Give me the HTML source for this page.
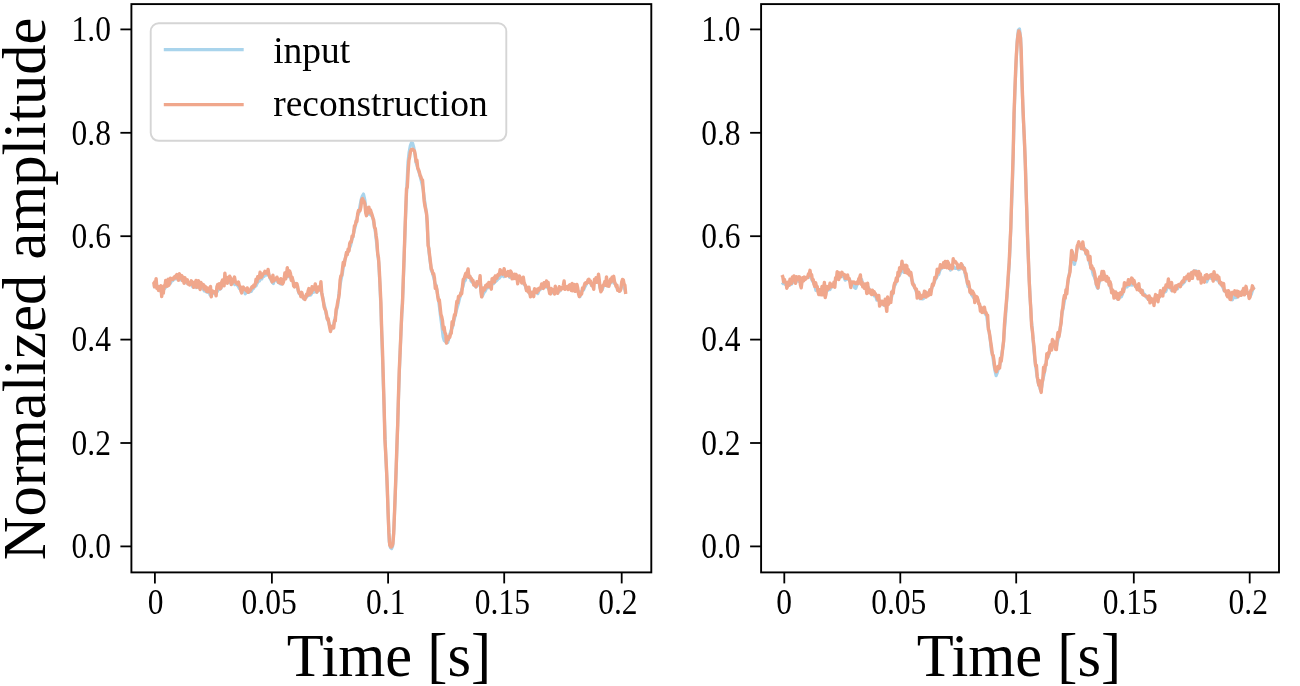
<!DOCTYPE html>
<html><head><meta charset="utf-8"><title>Normalized amplitude vs time</title><style>
html,body{margin:0;padding:0;background:#fff;}
body{width:1300px;height:686px;overflow:hidden;}
svg{display:block;}
text{font-family:"Liberation Serif","Times New Roman",serif;fill:#000;}
.tk{font-size:35px;}
.lab{font-size:60.5px;}
.leg{font-size:37.5px;}
</style></head>
<body>
<svg width="1300" height="686" viewBox="0 0 1300 686">
<rect width="1300" height="686" fill="#fff"/>
<defs><clipPath id="clip0"><rect x="131.4" y="4.1" width="519.9" height="568.3"/></clipPath><clipPath id="clip1"><rect x="761.1" y="4.1" width="517.9" height="568.3"/></clipPath></defs>
<g clip-path="url(#clip0)">
<path d="M152.9,286.7 L154.1,286.6 L155.2,285.6 L156.4,284.5 L157.6,286.5 L158.7,287.5 L159.9,289.8 L161.1,291.9 L162.3,290.8 L163.4,289.4 L164.6,288.6 L165.8,287.0 L166.9,285.4 L168.1,283.3 L169.3,283.4 L170.4,283.4 L171.6,280.6 L172.8,280.7 L174.0,278.8 L175.1,279.0 L176.3,278.0 L177.5,279.2 L178.6,278.0 L179.8,279.7 L181.0,279.8 L182.1,279.7 L183.3,277.6 L184.5,280.4 L185.7,281.9 L186.8,283.0 L188.0,282.4 L189.2,284.2 L190.3,284.0 L191.5,284.6 L192.7,286.8 L193.8,285.3 L195.0,286.4 L196.2,287.6 L197.4,286.5 L198.5,287.2 L199.7,287.8 L200.9,288.3 L202.0,287.5 L203.2,289.2 L204.4,291.0 L205.5,288.9 L206.7,292.1 L207.9,292.1 L209.1,292.1 L210.2,295.2 L211.4,294.0 L212.6,292.0 L213.7,293.3 L214.9,293.8 L216.1,291.9 L217.2,291.6 L218.4,289.7 L219.6,289.3 L220.8,288.8 L221.9,285.3 L223.1,284.9 L224.3,282.9 L225.4,282.1 L226.6,280.7 L227.8,281.3 L228.9,281.7 L230.1,282.8 L231.3,283.3 L232.5,281.4 L233.6,282.5 L234.8,284.6 L236.0,282.5 L237.1,285.0 L238.3,286.4 L239.5,288.7 L240.6,289.1 L241.8,289.1 L243.0,290.0 L244.2,291.1 L245.3,293.8 L246.5,292.1 L247.7,292.0 L248.8,292.4 L250.0,291.7 L251.2,291.4 L252.3,289.3 L253.5,288.6 L254.7,286.3 L255.9,286.0 L257.0,283.6 L258.2,281.5 L259.4,281.0 L260.5,278.8 L261.7,279.0 L262.9,276.7 L264.0,276.5 L265.2,274.1 L266.4,275.1 L267.6,272.5 L268.7,273.7 L269.9,278.1 L271.1,280.3 L272.2,282.0 L273.4,283.5 L274.6,279.8 L275.7,279.4 L276.9,280.7 L278.1,282.2 L279.3,282.8 L280.4,283.9 L281.6,284.1 L282.8,282.3 L283.9,279.1 L285.1,278.4 L286.3,276.9 L287.4,275.2 L288.6,276.6 L289.8,275.4 L291.0,278.6 L292.1,279.9 L293.3,281.9 L294.5,283.3 L295.6,286.0 L296.8,286.5 L298.0,289.7 L299.1,293.5 L300.3,292.5 L301.5,296.6 L302.7,295.2 L303.8,298.9 L305.0,297.0 L306.2,297.7 L307.3,296.1 L308.5,293.5 L309.7,295.3 L310.8,294.9 L312.0,292.9 L313.2,292.3 L314.4,291.9 L315.5,290.6 L316.7,292.2 L317.9,289.9 L319.0,289.9 L320.2,288.5 L321.4,292.1 L322.5,296.1 L323.7,303.3 L324.9,307.2 L326.1,313.8 L327.2,318.3 L328.4,321.7 L329.6,325.8 L330.7,327.6 L331.9,328.8 L333.1,326.4 L334.2,322.5 L335.4,316.5 L336.6,310.0 L337.8,305.2 L338.9,294.1 L340.1,284.9 L341.3,278.4 L342.4,273.7 L343.6,265.0 L344.8,260.5 L345.9,255.9 L347.1,252.0 L348.3,251.7 L349.5,248.1 L350.6,245.4 L351.8,240.1 L353.0,236.5 L354.1,230.7 L355.3,226.5 L356.5,220.8 L357.6,215.9 L358.8,213.0 L360.0,205.7 L361.2,199.4 L362.3,196.0 L363.5,194.0 L364.7,199.3 L365.8,207.2 L367.0,215.0 L368.2,213.6 L369.3,212.2 L370.5,214.8 L371.7,215.8 L372.9,217.9 L374.0,224.1 L375.2,230.5 L376.4,241.3 L377.5,251.8 L378.7,262.2 L379.9,284.8 L381.0,310.4 L382.2,348.5 L383.4,386.6 L384.6,423.2 L385.7,454.4 L386.9,479.5 L388.1,512.4 L389.2,541.4 L390.4,547.5 L391.6,548.6 L392.7,545.9 L393.9,528.4 L395.1,498.6 L396.3,466.6 L397.4,432.5 L398.6,393.9 L399.8,359.8 L400.9,333.6 L402.1,309.3 L403.3,282.8 L404.4,249.4 L405.6,215.1 L406.8,187.7 L408.0,162.2 L409.1,152.2 L410.3,145.7 L411.5,142.5 L412.6,143.2 L413.8,147.4 L415.0,154.8 L416.1,162.7 L417.3,166.4 L418.5,170.8 L419.7,174.6 L420.8,178.8 L422.0,183.9 L423.2,189.8 L424.3,198.6 L425.5,206.4 L426.7,215.8 L427.8,236.5 L429.0,252.3 L430.2,261.9 L431.4,270.5 L432.5,272.9 L433.7,277.7 L434.9,282.8 L436.0,285.2 L437.2,292.3 L438.4,299.0 L439.5,307.6 L440.7,317.6 L441.9,326.5 L443.1,336.9 L444.2,340.5 L445.4,341.5 L446.6,342.8 L447.7,342.7 L448.9,338.3 L450.1,333.6 L451.2,330.1 L452.4,327.6 L453.6,322.0 L454.8,317.2 L455.9,312.4 L457.1,307.8 L458.3,303.8 L459.4,299.2 L460.6,294.8 L461.8,289.4 L462.9,286.9 L464.1,281.6 L465.3,280.4 L466.5,275.7 L467.6,275.2 L468.8,276.7 L470.0,276.7 L471.1,281.1 L472.3,282.2 L473.5,282.2 L474.6,285.4 L475.8,287.0 L477.0,284.5 L478.2,285.1 L479.3,282.5 L480.5,283.3 L481.7,296.7 L482.8,295.2 L484.0,292.5 L485.2,291.1 L486.3,288.8 L487.5,287.3 L488.7,287.6 L489.9,284.4 L491.0,283.4 L492.2,281.1 L493.4,283.7 L494.5,282.2 L495.7,281.4 L496.9,280.3 L498.0,278.9 L499.2,278.1 L500.4,276.7 L501.6,275.8 L502.7,275.2 L503.9,276.6 L505.1,275.8 L506.2,275.3 L507.4,274.9 L508.6,275.0 L509.7,277.4 L510.9,276.4 L512.1,276.2 L513.3,276.3 L514.4,275.9 L515.6,277.4 L516.8,278.8 L517.9,277.9 L519.1,278.5 L520.3,278.9 L521.4,280.9 L522.6,280.9 L523.8,284.0 L525.0,285.2 L526.1,288.7 L527.3,288.9 L528.5,292.0 L529.6,293.5 L530.8,292.2 L532.0,292.5 L533.1,293.6 L534.3,293.0 L535.5,291.5 L536.7,292.5 L537.8,293.6 L539.0,290.5 L540.2,289.7 L541.3,287.9 L542.5,288.3 L543.7,286.0 L544.8,285.5 L546.0,287.1 L547.2,284.8 L548.4,288.2 L549.5,290.1 L550.7,290.2 L551.9,291.3 L553.0,292.9 L554.2,290.9 L555.4,290.7 L556.5,290.1 L557.7,290.9 L558.9,291.7 L560.1,290.6 L561.2,288.1 L562.4,287.8 L563.6,288.0 L564.7,288.6 L565.9,288.0 L567.1,288.2 L568.2,288.5 L569.4,288.1 L570.6,288.5 L571.8,288.9 L572.9,288.8 L574.1,289.6 L575.3,291.2 L576.4,290.1 L577.6,290.3 L578.8,291.6 L579.9,296.7 L581.1,292.5 L582.3,290.4 L583.5,290.1 L584.6,287.5 L585.8,285.3 L587.0,282.4 L588.1,282.4 L589.3,280.8 L590.5,282.6 L591.6,285.7 L592.8,285.1 L594.0,283.1 L595.2,280.7 L596.3,279.7 L597.5,277.5 L598.7,280.8 L599.8,286.8 L601.0,290.3 L602.2,289.6 L603.3,286.7 L604.5,283.8 L605.7,283.4 L606.9,285.6 L608.0,286.0 L609.2,284.4 L610.4,283.1 L611.5,280.7 L612.7,279.9 L613.9,283.3 L615.0,283.5 L616.2,285.5 L617.4,289.2 L618.6,289.4 L619.7,291.2 L620.9,287.8 L622.1,283.6 L623.2,281.2 L624.4,287.9 L625.6,292.3" fill="none" stroke="#a9d4ec" stroke-width="3.2" stroke-linejoin="round"/>
<path d="M152.9,281.8 L153.7,282.3 L154.5,286.9 L155.3,285.6 L156.1,278.7 L156.9,288.3 L157.7,287.3 L158.5,290.4 L159.3,286.7 L160.1,287.6 L160.9,285.8 L161.7,296.6 L162.5,289.5 L163.3,293.2 L164.1,285.6 L164.9,286.6 L165.7,280.5 L166.5,283.3 L167.3,286.2 L168.1,279.2 L168.9,285.2 L169.7,282.6 L170.5,278.2 L171.3,279.2 L172.1,278.8 L172.9,279.4 L173.7,277.8 L174.5,276.7 L175.3,277.9 L176.1,275.6 L176.9,274.5 L177.7,277.7 L178.5,280.2 L179.3,273.6 L180.1,278.0 L180.9,276.3 L181.7,275.6 L182.5,280.8 L183.3,277.1 L184.1,283.3 L184.9,277.6 L185.7,281.5 L186.5,280.5 L187.3,279.7 L188.1,284.1 L188.9,282.6 L189.7,285.0 L190.5,283.4 L191.3,280.8 L192.1,283.8 L192.9,284.5 L193.7,287.3 L194.5,282.3 L195.3,284.9 L196.1,280.4 L196.9,287.2 L197.7,282.6 L198.5,280.8 L199.3,285.9 L200.1,289.5 L200.9,282.4 L201.7,284.0 L202.5,285.3 L203.3,284.5 L204.1,289.1 L204.9,286.2 L205.7,287.0 L206.5,291.2 L207.3,288.0 L208.1,291.8 L208.9,288.4 L209.7,288.3 L210.5,286.6 L211.3,296.9 L212.1,290.8 L212.9,292.4 L213.7,291.6 L214.5,292.1 L215.3,291.5 L216.1,295.9 L216.9,286.9 L217.7,284.6 L218.5,285.4 L219.3,283.7 L220.1,288.7 L220.9,288.0 L221.7,282.1 L222.5,280.0 L223.3,281.9 L224.1,285.9 L224.9,273.2 L225.7,281.9 L226.5,277.4 L227.3,283.3 L228.1,277.4 L228.9,279.6 L229.7,276.2 L230.5,277.7 L231.3,284.6 L232.1,283.4 L232.9,280.4 L233.7,279.4 L234.5,277.0 L235.3,281.6 L236.1,283.0 L236.9,283.5 L237.7,284.2 L238.5,282.0 L239.3,285.6 L240.1,286.4 L240.9,290.8 L241.7,293.0 L242.5,288.1 L243.3,287.0 L244.1,289.6 L244.9,288.8 L245.7,289.0 L246.5,290.9 L247.3,288.0 L248.1,292.4 L248.9,290.3 L249.7,291.1 L250.5,289.7 L251.3,288.0 L252.1,286.7 L252.9,287.4 L253.7,285.3 L254.5,286.2 L255.3,284.2 L256.1,279.1 L256.9,281.9 L257.7,276.7 L258.5,278.0 L259.3,278.0 L260.1,272.2 L260.9,277.5 L261.7,276.9 L262.5,275.2 L263.3,273.6 L264.1,273.4 L264.9,271.3 L265.7,272.9 L266.5,271.7 L267.3,273.1 L268.1,269.4 L268.9,275.3 L269.7,276.9 L270.5,278.0 L271.3,279.0 L272.1,281.9 L272.9,275.3 L273.7,280.9 L274.5,279.8 L275.3,279.6 L276.1,279.4 L276.9,277.2 L277.7,279.1 L278.5,282.4 L279.3,282.7 L280.1,282.9 L280.9,278.6 L281.7,283.3 L282.5,283.9 L283.3,282.4 L284.1,279.1 L284.9,272.9 L285.7,278.8 L286.5,274.7 L287.3,267.7 L288.1,275.9 L288.9,270.6 L289.7,271.2 L290.5,273.6 L291.3,280.3 L292.1,277.1 L292.9,280.4 L293.7,285.9 L294.5,286.9 L295.3,283.7 L296.1,284.9 L296.9,283.6 L297.7,286.8 L298.5,291.5 L299.3,293.0 L300.1,293.2 L300.9,296.5 L301.7,292.3 L302.5,295.1 L303.3,298.1 L304.1,298.5 L304.9,299.4 L305.7,296.9 L306.5,294.3 L307.3,295.5 L308.1,291.0 L308.9,288.6 L309.7,294.2 L310.5,291.9 L311.3,292.6 L312.1,286.7 L312.9,290.1 L313.7,289.2 L314.5,288.1 L315.3,283.9 L316.1,288.9 L316.9,292.0 L317.7,290.1 L318.5,287.0 L319.3,288.2 L320.1,290.0 L320.9,281.6 L321.7,292.2 L322.5,297.2 L323.3,300.8 L324.1,306.9 L324.9,309.1 L325.7,310.5 L326.5,314.2 L327.3,319.3 L328.1,318.6 L328.9,322.8 L329.7,327.7 L330.5,331.5 L331.3,326.4 L332.1,326.3 L332.9,326.2 L333.7,327.9 L334.5,320.4 L335.3,321.0 L336.1,309.6 L336.9,306.9 L337.7,301.9 L338.5,298.7 L339.3,293.4 L340.1,280.2 L340.9,275.8 L341.7,275.4 L342.5,268.6 L343.3,262.2 L344.1,265.5 L344.9,260.0 L345.7,257.0 L346.5,252.4 L347.3,254.7 L348.1,249.2 L348.9,251.0 L349.7,243.5 L350.5,241.7 L351.3,241.9 L352.1,236.1 L352.9,236.7 L353.7,232.3 L354.5,225.7 L355.3,225.3 L356.1,221.0 L356.9,221.4 L357.7,213.6 L358.5,210.4 L359.3,211.3 L360.1,210.5 L360.9,206.9 L361.7,199.8 L362.5,198.6 L363.3,200.7 L364.1,201.4 L364.9,204.3 L365.7,212.7 L366.5,215.7 L367.3,211.1 L368.1,207.7 L368.9,207.2 L369.7,212.9 L370.5,209.9 L371.3,212.7 L372.1,214.8 L372.9,218.0 L373.7,220.2 L374.5,227.5 L375.3,228.5 L376.1,235.5 L376.9,240.8 L377.7,253.9 L378.5,257.8 L379.3,269.8 L380.1,285.9 L380.9,302.6 L381.7,331.2 L382.5,350.8 L383.3,378.3 L384.1,406.2 L384.9,439.4 L385.7,453.3 L386.5,469.0 L387.3,487.7 L388.1,512.7 L388.9,532.9 L389.7,545.0 L390.5,546.5 L391.3,547.0 L392.1,545.9 L392.9,543.7 L393.7,533.5 L394.5,513.0 L395.3,492.2 L396.1,469.7 L396.9,446.1 L397.7,424.9 L398.5,395.2 L399.3,369.6 L400.1,352.7 L400.9,333.6 L401.7,313.5 L402.5,303.1 L403.3,278.4 L404.1,257.2 L404.9,233.1 L405.7,210.6 L406.5,189.0 L407.3,187.0 L408.1,171.9 L408.9,160.5 L409.7,156.6 L410.5,151.5 L411.3,149.7 L412.1,149.4 L412.9,149.3 L413.7,150.2 L414.5,151.0 L415.3,155.0 L416.1,161.6 L416.9,160.2 L417.7,168.0 L418.5,169.7 L419.3,171.9 L420.1,175.4 L420.9,176.9 L421.7,179.5 L422.5,179.9 L423.3,189.8 L424.1,200.4 L424.9,206.0 L425.7,209.5 L426.5,213.1 L427.3,223.0 L428.1,245.6 L428.9,248.7 L429.7,255.9 L430.5,262.5 L431.3,269.0 L432.1,270.2 L432.9,273.8 L433.7,273.7 L434.5,278.3 L435.3,288.4 L436.1,285.8 L436.9,289.6 L437.7,296.0 L438.5,300.7 L439.3,299.8 L440.1,306.7 L440.9,314.2 L441.7,316.7 L442.5,320.6 L443.3,329.0 L444.1,327.1 L444.9,332.5 L445.7,334.2 L446.5,343.1 L447.3,336.8 L448.1,339.7 L448.9,337.0 L449.7,337.3 L450.5,334.0 L451.3,333.2 L452.1,321.8 L452.9,325.2 L453.7,319.1 L454.5,314.8 L455.3,315.0 L456.1,307.7 L456.9,301.2 L457.7,302.8 L458.5,296.4 L459.3,295.9 L460.1,295.9 L460.9,292.9 L461.7,293.7 L462.5,285.9 L463.3,279.3 L464.1,278.7 L464.9,276.0 L465.7,273.6 L466.5,276.6 L467.3,272.0 L468.1,268.9 L468.9,277.3 L469.7,275.9 L470.5,278.1 L471.3,278.4 L472.1,280.7 L472.9,280.3 L473.7,285.0 L474.5,284.1 L475.3,285.3 L476.1,286.7 L476.9,281.7 L477.7,283.8 L478.5,282.0 L479.3,281.7 L480.1,275.8 L480.9,291.2 L481.7,296.9 L482.5,291.3 L483.3,288.1 L484.1,290.2 L484.9,288.8 L485.7,285.6 L486.5,287.1 L487.3,284.2 L488.1,286.7 L488.9,282.4 L489.7,283.5 L490.5,285.5 L491.3,289.2 L492.1,278.7 L492.9,279.6 L493.7,278.0 L494.5,282.0 L495.3,276.0 L496.1,277.3 L496.9,278.1 L497.7,274.8 L498.5,274.2 L499.3,275.0 L500.1,269.8 L500.9,271.0 L501.7,273.3 L502.5,274.2 L503.3,273.0 L504.1,268.7 L504.9,272.4 L505.7,276.1 L506.5,275.5 L507.3,273.8 L508.1,271.6 L508.9,276.0 L509.7,272.7 L510.5,271.1 L511.3,272.2 L512.1,278.7 L512.9,275.6 L513.7,278.5 L514.5,274.2 L515.3,278.5 L516.1,274.5 L516.9,276.0 L517.7,283.7 L518.5,279.2 L519.3,275.9 L520.1,277.4 L520.9,279.4 L521.7,283.0 L522.5,279.5 L523.3,277.2 L524.1,282.5 L524.9,284.5 L525.7,286.0 L526.5,290.6 L527.3,289.0 L528.1,291.7 L528.9,287.1 L529.7,293.0 L530.5,296.8 L531.3,293.4 L532.1,292.3 L532.9,292.4 L533.7,296.7 L534.5,288.8 L535.3,290.8 L536.1,292.1 L536.9,292.5 L537.7,288.9 L538.5,290.5 L539.3,288.3 L540.1,288.7 L540.9,287.4 L541.7,283.9 L542.5,286.4 L543.3,288.5 L544.1,282.8 L544.9,284.4 L545.7,286.4 L546.5,281.0 L547.3,284.8 L548.1,282.3 L548.9,289.4 L549.7,293.7 L550.5,293.9 L551.3,288.5 L552.1,291.3 L552.9,289.7 L553.7,289.8 L554.5,294.0 L555.3,286.1 L556.1,292.9 L556.9,289.7 L557.7,293.3 L558.5,289.5 L559.3,286.7 L560.1,288.9 L560.9,289.8 L561.7,287.4 L562.5,288.5 L563.3,285.6 L564.1,281.0 L564.9,289.3 L565.7,288.7 L566.5,287.0 L567.3,286.7 L568.1,289.6 L568.9,285.5 L569.7,284.9 L570.5,286.5 L571.3,290.5 L572.1,283.4 L572.9,290.8 L573.7,285.8 L574.5,284.6 L575.3,291.4 L576.1,287.7 L576.9,284.5 L577.7,288.0 L578.5,293.7 L579.3,296.5 L580.1,294.0 L580.9,294.6 L581.7,293.6 L582.5,288.0 L583.3,289.0 L584.1,286.2 L584.9,283.5 L585.7,282.7 L586.5,283.4 L587.3,282.3 L588.1,279.8 L588.9,279.2 L589.7,282.6 L590.5,281.1 L591.3,283.9 L592.1,285.8 L592.9,285.1 L593.7,289.3 L594.5,279.2 L595.3,282.3 L596.1,277.8 L596.9,282.4 L597.7,281.2 L598.5,274.2 L599.3,280.3 L600.1,288.2 L600.9,291.8 L601.7,290.3 L602.5,286.0 L603.3,285.5 L604.1,284.0 L604.9,281.4 L605.7,285.3 L606.5,276.9 L607.3,285.8 L608.1,281.7 L608.9,286.3 L609.7,282.1 L610.5,279.3 L611.3,281.8 L612.1,277.3 L612.9,277.4 L613.7,276.4 L614.5,281.5 L615.3,283.8 L616.1,286.4 L616.9,285.1 L617.7,290.4 L618.5,289.5 L619.3,291.2 L620.1,290.7 L620.9,289.0 L621.7,282.1 L622.5,279.4 L623.3,279.9 L624.1,284.2 L624.9,285.1 L625.7,294.0" fill="none" stroke="#f0a78c" stroke-width="3.4" stroke-linejoin="round"/>
</g>
<rect x="131.4" y="4.1" width="519.9" height="568.3" fill="none" stroke="#000" stroke-width="1.9"/>
<line x1="120.4" y1="546.4" x2="131.4" y2="546.4" stroke="#000" stroke-width="1.8"/>
<text transform="translate(110.9,558.2) scale(0.9,1)" text-anchor="end" class="tk">0.0</text>
<line x1="120.4" y1="443.0" x2="131.4" y2="443.0" stroke="#000" stroke-width="1.8"/>
<text transform="translate(110.9,454.8) scale(0.9,1)" text-anchor="end" class="tk">0.2</text>
<line x1="120.4" y1="339.6" x2="131.4" y2="339.6" stroke="#000" stroke-width="1.8"/>
<text transform="translate(110.9,351.4) scale(0.9,1)" text-anchor="end" class="tk">0.4</text>
<line x1="120.4" y1="236.2" x2="131.4" y2="236.2" stroke="#000" stroke-width="1.8"/>
<text transform="translate(110.9,248.0) scale(0.9,1)" text-anchor="end" class="tk">0.6</text>
<line x1="120.4" y1="132.8" x2="131.4" y2="132.8" stroke="#000" stroke-width="1.8"/>
<text transform="translate(110.9,144.6) scale(0.9,1)" text-anchor="end" class="tk">0.8</text>
<line x1="120.4" y1="29.4" x2="131.4" y2="29.4" stroke="#000" stroke-width="1.8"/>
<text transform="translate(110.9,41.2) scale(0.9,1)" text-anchor="end" class="tk">1.0</text>
<line x1="154.9" y1="572.4" x2="154.9" y2="583.4" stroke="#000" stroke-width="1.8"/>
<text transform="translate(155.6,614.4) scale(0.9,1)" text-anchor="middle" class="tk">0</text>
<line x1="271.9" y1="572.4" x2="271.9" y2="583.4" stroke="#000" stroke-width="1.8"/>
<text transform="translate(269.1,614.4) scale(0.9,1)" text-anchor="middle" class="tk">0.05</text>
<line x1="388.1" y1="572.4" x2="388.1" y2="583.4" stroke="#000" stroke-width="1.8"/>
<text transform="translate(385.7,614.4) scale(0.9,1)" text-anchor="middle" class="tk">0.1</text>
<line x1="504.2" y1="572.4" x2="504.2" y2="583.4" stroke="#000" stroke-width="1.8"/>
<text transform="translate(502.4,614.4) scale(0.9,1)" text-anchor="middle" class="tk">0.15</text>
<line x1="621.7" y1="572.4" x2="621.7" y2="583.4" stroke="#000" stroke-width="1.8"/>
<text transform="translate(617.9,614.4) scale(0.9,1)" text-anchor="middle" class="tk">0.2</text>
<text x="388.9" y="675.5" text-anchor="middle" class="lab">Time [s]</text>
<g clip-path="url(#clip1)">
<path d="M782.0,282.3 L783.2,283.6 L784.3,282.8 L785.5,284.5 L786.7,284.8 L787.8,283.5 L789.0,285.4 L790.2,283.3 L791.4,284.2 L792.5,282.8 L793.7,280.6 L794.9,280.3 L796.0,280.6 L797.2,280.8 L798.4,281.3 L799.5,281.6 L800.7,280.7 L801.9,281.8 L803.1,278.7 L804.2,280.1 L805.4,277.9 L806.6,277.3 L807.7,277.3 L808.9,277.3 L810.1,275.3 L811.2,277.7 L812.4,281.0 L813.6,282.6 L814.8,285.7 L815.9,290.3 L817.1,289.6 L818.3,291.8 L819.4,290.2 L820.6,292.4 L821.8,292.0 L822.9,292.0 L824.1,292.4 L825.3,293.3 L826.5,291.2 L827.6,290.5 L828.8,288.7 L830.0,289.6 L831.1,287.2 L832.3,286.6 L833.5,284.1 L834.6,284.2 L835.8,278.8 L837.0,278.7 L838.2,278.3 L839.3,276.9 L840.5,276.2 L841.7,276.5 L842.8,275.4 L844.0,277.4 L845.2,280.2 L846.3,279.4 L847.5,277.9 L848.7,279.1 L849.9,280.5 L851.0,282.8 L852.2,282.6 L853.4,284.4 L854.5,287.6 L855.7,288.4 L856.9,284.9 L858.0,281.8 L859.2,279.0 L860.4,279.2 L861.6,279.4 L862.7,284.0 L863.9,284.3 L865.1,286.6 L866.2,288.9 L867.4,289.2 L868.6,287.8 L869.7,290.9 L870.9,292.7 L872.1,292.4 L873.3,293.7 L874.4,296.0 L875.6,295.8 L876.8,300.2 L877.9,297.6 L879.1,300.3 L880.3,302.4 L881.4,303.1 L882.6,304.2 L883.8,305.1 L885.0,305.3 L886.1,306.2 L887.3,302.0 L888.5,303.2 L889.6,301.5 L890.8,300.1 L892.0,295.6 L893.1,289.9 L894.3,286.3 L895.5,284.2 L896.7,280.3 L897.8,275.9 L899.0,276.1 L900.2,273.8 L901.3,268.9 L902.5,270.3 L903.7,272.3 L904.8,270.3 L906.0,270.2 L907.2,270.2 L908.4,270.3 L909.5,272.8 L910.7,275.6 L911.9,280.2 L913.0,282.9 L914.2,286.7 L915.4,289.1 L916.5,292.6 L917.7,294.1 L918.9,297.1 L920.1,298.8 L921.2,298.4 L922.4,298.9 L923.6,298.4 L924.7,297.3 L925.9,296.2 L927.1,295.2 L928.2,294.5 L929.4,291.0 L930.6,291.6 L931.8,288.2 L932.9,284.8 L934.1,282.4 L935.3,279.6 L936.4,278.1 L937.6,274.9 L938.8,274.4 L939.9,270.6 L941.1,267.8 L942.3,268.1 L943.5,265.5 L944.6,266.8 L945.8,267.2 L947.0,266.0 L948.1,264.3 L949.3,266.2 L950.5,270.1 L951.6,268.1 L952.8,266.9 L954.0,267.1 L955.2,268.4 L956.3,268.4 L957.5,268.4 L958.7,269.7 L959.8,269.1 L961.0,266.7 L962.2,265.1 L963.3,267.3 L964.5,270.9 L965.7,276.3 L966.9,280.5 L968.0,286.5 L969.2,287.1 L970.4,291.6 L971.5,294.6 L972.7,296.3 L973.9,298.1 L975.0,297.8 L976.2,298.6 L977.4,299.0 L978.6,302.1 L979.7,305.9 L980.9,307.7 L982.1,309.0 L983.2,311.2 L984.4,312.7 L985.6,314.4 L986.7,316.0 L987.9,324.8 L989.1,331.7 L990.3,340.4 L991.4,350.8 L992.6,354.6 L993.8,364.0 L994.9,370.4 L996.1,375.7 L997.3,372.6 L998.4,369.1 L999.6,365.9 L1000.8,360.5 L1002.0,352.6 L1003.1,346.5 L1004.3,331.5 L1005.5,317.4 L1006.6,302.1 L1007.8,285.5 L1009.0,268.0 L1010.1,246.6 L1011.3,213.9 L1012.5,180.0 L1013.7,134.5 L1014.8,94.1 L1016.0,64.6 L1017.2,40.4 L1018.3,30.2 L1019.5,29.0 L1020.7,38.1 L1021.8,77.8 L1023.0,110.9 L1024.2,137.1 L1025.4,165.2 L1026.5,203.6 L1027.7,241.0 L1028.9,273.1 L1030.0,295.2 L1031.2,318.2 L1032.4,330.9 L1033.5,345.5 L1034.7,358.2 L1035.9,367.7 L1037.1,376.7 L1038.2,382.8 L1039.4,386.2 L1040.6,390.3 L1041.7,386.9 L1042.9,379.0 L1044.1,374.5 L1045.2,367.9 L1046.4,360.7 L1047.6,357.9 L1048.8,355.0 L1049.9,349.9 L1051.1,346.1 L1052.3,343.0 L1053.4,345.0 L1054.6,346.9 L1055.8,349.0 L1056.9,344.9 L1058.1,339.4 L1059.3,334.1 L1060.5,326.3 L1061.6,316.3 L1062.8,309.8 L1064.0,303.4 L1065.1,296.9 L1066.3,292.4 L1067.5,285.3 L1068.6,278.2 L1069.8,271.1 L1071.0,261.0 L1072.2,251.9 L1073.3,258.4 L1074.5,264.4 L1075.7,258.7 L1076.8,250.0 L1078.0,245.9 L1079.2,245.2 L1080.3,245.4 L1081.5,247.3 L1082.7,249.0 L1083.9,248.0 L1085.0,248.8 L1086.2,254.4 L1087.4,254.8 L1088.5,257.9 L1089.7,263.3 L1090.9,267.3 L1092.0,269.6 L1093.2,274.7 L1094.4,277.1 L1095.6,281.0 L1096.7,286.4 L1097.9,288.3 L1099.1,282.8 L1100.2,280.4 L1101.4,278.0 L1102.6,279.0 L1103.7,274.8 L1104.9,278.4 L1106.1,278.4 L1107.3,279.8 L1108.4,282.5 L1109.6,285.3 L1110.8,288.3 L1111.9,289.9 L1113.1,291.3 L1114.3,293.2 L1115.4,296.0 L1116.6,297.8 L1117.8,299.3 L1119.0,297.5 L1120.1,297.3 L1121.3,296.8 L1122.5,294.0 L1123.6,290.1 L1124.8,288.1 L1126.0,285.5 L1127.1,286.9 L1128.3,283.8 L1129.5,285.3 L1130.7,284.1 L1131.8,285.2 L1133.0,285.0 L1134.2,284.5 L1135.3,285.0 L1136.5,286.1 L1137.7,287.4 L1138.8,287.8 L1140.0,289.5 L1141.2,292.4 L1142.4,290.6 L1143.5,294.0 L1144.7,294.3 L1145.9,296.6 L1147.0,298.1 L1148.2,298.1 L1149.4,299.8 L1150.5,298.3 L1151.7,301.7 L1152.9,300.8 L1154.1,301.9 L1155.2,300.3 L1156.4,296.3 L1157.6,297.0 L1158.7,296.8 L1159.9,296.9 L1161.1,294.5 L1162.2,293.3 L1163.4,290.5 L1164.6,292.2 L1165.8,291.4 L1166.9,288.5 L1168.1,287.1 L1169.3,285.3 L1170.4,288.3 L1171.6,290.6 L1172.8,289.1 L1173.9,290.1 L1175.1,289.8 L1176.3,287.4 L1177.5,288.7 L1178.6,285.2 L1179.8,285.3 L1181.0,284.9 L1182.1,284.5 L1183.3,283.1 L1184.5,282.1 L1185.6,279.9 L1186.8,278.0 L1188.0,277.9 L1189.2,275.8 L1190.3,273.8 L1191.5,273.1 L1192.7,273.1 L1193.8,271.1 L1195.0,270.9 L1196.2,270.9 L1197.3,273.9 L1198.5,275.3 L1199.7,278.9 L1200.9,277.3 L1202.0,279.4 L1203.2,281.0 L1204.4,279.9 L1205.5,279.8 L1206.7,281.8 L1207.9,279.3 L1209.0,278.0 L1210.2,277.3 L1211.4,278.5 L1212.6,278.5 L1213.7,277.0 L1214.9,277.7 L1216.1,279.5 L1217.2,280.1 L1218.4,280.3 L1219.6,283.1 L1220.7,284.5 L1221.9,284.2 L1223.1,288.0 L1224.3,290.9 L1225.4,291.5 L1226.6,291.6 L1227.8,294.6 L1228.9,296.5 L1230.1,298.2 L1231.3,295.2 L1232.4,299.8 L1233.6,295.8 L1234.8,297.7 L1236.0,297.7 L1237.1,297.1 L1238.3,295.8 L1239.5,294.0 L1240.6,295.3 L1241.8,293.3 L1243.0,290.3 L1244.1,294.5 L1245.3,291.2 L1246.5,293.3 L1247.7,292.1 L1248.8,295.9 L1250.0,296.3 L1251.2,294.4 L1252.3,291.0 L1253.5,287.9 L1254.7,287.1" fill="none" stroke="#a9d4ec" stroke-width="3.2" stroke-linejoin="round"/>
<path d="M782.0,275.0 L782.8,276.8 L783.6,282.1 L784.4,279.4 L785.2,282.0 L786.0,282.5 L786.8,288.2 L787.6,286.1 L788.4,282.0 L789.2,285.2 L790.0,279.3 L790.8,280.2 L791.6,283.3 L792.4,276.9 L793.2,279.2 L794.0,275.9 L794.8,279.5 L795.6,283.4 L796.4,276.7 L797.2,279.8 L798.0,277.1 L798.8,276.8 L799.6,276.9 L800.4,284.9 L801.2,287.8 L802.0,281.8 L802.8,277.6 L803.6,280.8 L804.4,277.1 L805.2,279.5 L806.0,277.6 L806.8,277.2 L807.6,277.8 L808.4,274.1 L809.2,274.3 L810.0,270.3 L810.8,275.7 L811.6,274.7 L812.4,280.1 L813.2,279.6 L814.0,284.2 L814.8,286.5 L815.6,282.7 L816.4,285.8 L817.2,286.5 L818.0,291.6 L818.8,294.6 L819.6,292.5 L820.4,289.5 L821.2,294.9 L822.0,286.5 L822.8,294.8 L823.6,288.6 L824.4,282.5 L825.2,297.5 L826.0,294.2 L826.8,286.5 L827.6,289.4 L828.4,287.8 L829.2,288.2 L830.0,283.3 L830.8,284.5 L831.6,286.6 L832.4,284.8 L833.2,286.4 L834.0,282.1 L834.8,287.3 L835.6,277.6 L836.4,279.1 L837.2,271.8 L838.0,272.5 L838.8,279.6 L839.6,273.0 L840.4,277.0 L841.2,275.2 L842.0,272.3 L842.8,274.3 L843.6,274.2 L844.4,274.6 L845.2,278.4 L846.0,278.4 L846.8,275.4 L847.6,275.1 L848.4,279.0 L849.2,278.6 L850.0,282.4 L850.8,287.6 L851.6,283.5 L852.4,282.1 L853.2,282.8 L854.0,282.0 L854.8,283.0 L855.6,283.5 L856.4,283.6 L857.2,281.9 L858.0,283.6 L858.8,278.8 L859.6,277.7 L860.4,275.0 L861.2,284.2 L862.0,282.1 L862.8,286.9 L863.6,285.3 L864.4,288.2 L865.2,284.0 L866.0,287.4 L866.8,293.6 L867.6,283.2 L868.4,290.6 L869.2,292.7 L870.0,290.0 L870.8,292.1 L871.6,294.6 L872.4,290.1 L873.2,294.2 L874.0,291.6 L874.8,293.1 L875.6,294.1 L876.4,296.4 L877.2,298.1 L878.0,299.9 L878.8,295.5 L879.6,306.1 L880.4,304.5 L881.2,303.8 L882.0,301.2 L882.8,302.4 L883.6,304.7 L884.4,304.8 L885.2,299.3 L886.0,305.8 L886.8,311.4 L887.6,297.0 L888.4,304.6 L889.2,302.1 L890.0,300.1 L890.8,302.5 L891.6,292.0 L892.4,292.7 L893.2,293.3 L894.0,285.8 L894.8,282.8 L895.6,281.9 L896.4,277.9 L897.2,281.2 L898.0,272.1 L898.8,275.5 L899.6,267.6 L900.4,271.4 L901.2,268.6 L902.0,261.2 L902.8,268.4 L903.6,265.2 L904.4,266.8 L905.2,272.6 L906.0,265.3 L906.8,265.7 L907.6,273.2 L908.4,269.7 L909.2,275.0 L910.0,273.7 L910.8,272.4 L911.6,277.0 L912.4,283.2 L913.2,285.0 L914.0,284.9 L914.8,287.7 L915.6,289.0 L916.4,289.2 L917.2,298.0 L918.0,294.0 L918.8,292.3 L919.6,294.8 L920.4,298.4 L921.2,298.4 L922.0,296.4 L922.8,295.0 L923.6,296.6 L924.4,291.2 L925.2,291.6 L926.0,297.1 L926.8,292.8 L927.6,294.3 L928.4,295.6 L929.2,292.7 L930.0,289.7 L930.8,294.6 L931.6,288.9 L932.4,284.2 L933.2,285.5 L934.0,282.8 L934.8,277.4 L935.6,278.3 L936.4,276.0 L937.2,269.2 L938.0,272.8 L938.8,270.9 L939.6,269.0 L940.4,264.7 L941.2,267.5 L942.0,267.5 L942.8,267.1 L943.6,262.7 L944.4,267.3 L945.2,261.5 L946.0,263.8 L946.8,267.7 L947.6,261.5 L948.4,263.0 L949.2,268.5 L950.0,265.2 L950.8,266.0 L951.6,266.9 L952.4,268.7 L953.2,258.8 L954.0,262.1 L954.8,261.2 L955.6,261.8 L956.4,263.2 L957.2,264.0 L958.0,268.1 L958.8,265.4 L959.6,267.6 L960.4,267.6 L961.2,263.6 L962.0,265.3 L962.8,268.8 L963.6,267.7 L964.4,268.0 L965.2,272.8 L966.0,273.5 L966.8,279.5 L967.6,283.8 L968.4,281.5 L969.2,285.9 L970.0,292.2 L970.8,290.2 L971.6,293.8 L972.4,291.2 L973.2,292.6 L974.0,294.2 L974.8,302.6 L975.6,296.2 L976.4,296.6 L977.2,297.3 L978.0,299.9 L978.8,303.8 L979.6,304.1 L980.4,311.0 L981.2,307.4 L982.0,312.5 L982.8,310.4 L983.6,312.1 L984.4,307.2 L985.2,311.6 L986.0,312.6 L986.8,314.8 L987.6,315.2 L988.4,329.5 L989.2,331.7 L990.0,337.1 L990.8,342.7 L991.6,348.0 L992.4,354.9 L993.2,355.4 L994.0,360.8 L994.8,367.6 L995.6,370.5 L996.4,371.7 L997.2,369.2 L998.0,366.4 L998.8,366.6 L999.6,368.1 L1000.4,358.2 L1001.2,361.2 L1002.0,355.1 L1002.8,347.3 L1003.6,341.6 L1004.4,325.5 L1005.2,314.9 L1006.0,306.1 L1006.8,296.9 L1007.6,285.5 L1008.4,273.0 L1009.2,262.5 L1010.0,244.0 L1010.8,228.0 L1011.6,199.3 L1012.4,178.1 L1013.2,153.4 L1014.0,113.8 L1014.8,92.7 L1015.6,71.4 L1016.4,54.4 L1017.2,42.6 L1018.0,35.0 L1018.8,30.9 L1019.6,32.7 L1020.4,37.2 L1021.2,50.2 L1022.0,80.3 L1022.8,103.9 L1023.6,123.0 L1024.4,139.8 L1025.2,160.5 L1026.0,188.0 L1026.8,211.7 L1027.6,238.7 L1028.4,259.0 L1029.2,280.6 L1030.0,296.5 L1030.8,308.6 L1031.6,325.4 L1032.4,330.9 L1033.2,339.9 L1034.0,346.2 L1034.8,357.1 L1035.6,365.9 L1036.4,365.4 L1037.2,376.2 L1038.0,380.8 L1038.8,385.2 L1039.6,380.6 L1040.4,388.9 L1041.2,392.4 L1042.0,382.9 L1042.8,379.7 L1043.6,367.2 L1044.4,372.0 L1045.2,364.6 L1046.0,365.1 L1046.8,353.8 L1047.6,357.6 L1048.4,352.7 L1049.2,353.2 L1050.0,346.0 L1050.8,344.4 L1051.6,350.1 L1052.4,339.5 L1053.2,340.9 L1054.0,343.2 L1054.8,342.1 L1055.6,349.4 L1056.4,349.6 L1057.2,339.0 L1058.0,332.4 L1058.8,336.8 L1059.6,332.9 L1060.4,326.9 L1061.2,322.4 L1062.0,311.4 L1062.8,308.0 L1063.6,299.5 L1064.4,295.5 L1065.2,298.2 L1066.0,289.6 L1066.8,293.9 L1067.6,283.8 L1068.4,277.8 L1069.2,275.4 L1070.0,271.8 L1070.8,261.7 L1071.6,250.5 L1072.4,252.4 L1073.2,259.2 L1074.0,257.9 L1074.8,259.1 L1075.6,260.1 L1076.4,253.6 L1077.2,246.1 L1078.0,244.1 L1078.8,241.8 L1079.6,245.2 L1080.4,245.2 L1081.2,248.6 L1082.0,247.9 L1082.8,242.0 L1083.6,248.0 L1084.4,249.9 L1085.2,250.1 L1086.0,253.3 L1086.8,250.6 L1087.6,251.8 L1088.4,259.8 L1089.2,256.9 L1090.0,256.5 L1090.8,268.0 L1091.6,265.5 L1092.4,269.0 L1093.2,268.4 L1094.0,271.0 L1094.8,274.4 L1095.6,279.5 L1096.4,284.5 L1097.2,280.0 L1098.0,287.8 L1098.8,279.6 L1099.6,277.0 L1100.4,280.2 L1101.2,276.8 L1102.0,271.4 L1102.8,279.5 L1103.6,271.5 L1104.4,275.5 L1105.2,276.4 L1106.0,280.8 L1106.8,276.5 L1107.6,281.6 L1108.4,278.1 L1109.2,285.1 L1110.0,281.6 L1110.8,284.5 L1111.6,292.7 L1112.4,290.0 L1113.2,290.9 L1114.0,298.1 L1114.8,294.0 L1115.6,291.9 L1116.4,297.5 L1117.2,293.3 L1118.0,299.4 L1118.8,299.1 L1119.6,293.5 L1120.4,292.7 L1121.2,294.4 L1122.0,293.3 L1122.8,289.0 L1123.6,291.7 L1124.4,282.8 L1125.2,285.8 L1126.0,284.3 L1126.8,283.2 L1127.6,284.4 L1128.4,279.7 L1129.2,284.4 L1130.0,281.8 L1130.8,280.1 L1131.6,278.0 L1132.4,278.9 L1133.2,283.6 L1134.0,280.3 L1134.8,283.6 L1135.6,286.8 L1136.4,287.3 L1137.2,289.6 L1138.0,285.2 L1138.8,283.8 L1139.6,290.5 L1140.4,289.3 L1141.2,292.5 L1142.0,290.4 L1142.8,294.7 L1143.6,294.7 L1144.4,295.4 L1145.2,295.8 L1146.0,296.1 L1146.8,296.3 L1147.6,296.8 L1148.4,299.6 L1149.2,296.0 L1150.0,302.9 L1150.8,298.2 L1151.6,301.8 L1152.4,299.3 L1153.2,299.4 L1154.0,305.5 L1154.8,298.1 L1155.6,294.6 L1156.4,295.4 L1157.2,295.7 L1158.0,301.8 L1158.8,295.6 L1159.6,296.8 L1160.4,290.6 L1161.2,293.6 L1162.0,293.7 L1162.8,296.0 L1163.6,288.3 L1164.4,291.1 L1165.2,289.5 L1166.0,285.0 L1166.8,287.0 L1167.6,285.5 L1168.4,279.0 L1169.2,287.1 L1170.0,287.2 L1170.8,284.8 L1171.6,282.6 L1172.4,290.8 L1173.2,287.8 L1174.0,290.2 L1174.8,291.6 L1175.6,285.9 L1176.4,289.0 L1177.2,285.4 L1178.0,285.3 L1178.8,284.6 L1179.6,284.2 L1180.4,286.7 L1181.2,283.2 L1182.0,281.8 L1182.8,280.8 L1183.6,281.9 L1184.4,277.8 L1185.2,278.3 L1186.0,278.6 L1186.8,276.2 L1187.6,276.5 L1188.4,274.2 L1189.2,280.5 L1190.0,277.7 L1190.8,274.5 L1191.6,272.6 L1192.4,278.4 L1193.2,272.7 L1194.0,271.1 L1194.8,271.7 L1195.6,271.4 L1196.4,275.2 L1197.2,272.0 L1198.0,278.8 L1198.8,271.4 L1199.6,277.1 L1200.4,273.8 L1201.2,283.0 L1202.0,277.7 L1202.8,278.4 L1203.6,281.2 L1204.4,282.1 L1205.2,275.5 L1206.0,277.6 L1206.8,274.7 L1207.6,278.6 L1208.4,277.6 L1209.2,276.6 L1210.0,275.3 L1210.8,275.8 L1211.6,274.5 L1212.4,278.1 L1213.2,281.0 L1214.0,271.6 L1214.8,276.8 L1215.6,276.1 L1216.4,278.9 L1217.2,275.3 L1218.0,278.6 L1218.8,277.1 L1219.6,282.9 L1220.4,282.2 L1221.2,282.6 L1222.0,285.7 L1222.8,285.6 L1223.6,283.5 L1224.4,290.9 L1225.2,291.1 L1226.0,291.0 L1226.8,295.2 L1227.6,296.7 L1228.4,290.8 L1229.2,292.2 L1230.0,299.4 L1230.8,299.6 L1231.6,293.8 L1232.4,292.4 L1233.2,293.7 L1234.0,294.0 L1234.8,290.8 L1235.6,295.1 L1236.4,291.3 L1237.2,291.2 L1238.0,296.8 L1238.8,292.0 L1239.6,293.4 L1240.4,295.1 L1241.2,295.3 L1242.0,291.4 L1242.8,291.6 L1243.6,288.4 L1244.4,294.8 L1245.2,290.9 L1246.0,286.3 L1246.8,290.4 L1247.6,293.4 L1248.4,293.7 L1249.2,298.5 L1250.0,297.1 L1250.8,290.5 L1251.6,290.4 L1252.4,285.8 L1253.2,288.8 L1254.0,287.2" fill="none" stroke="#f0a78c" stroke-width="3.4" stroke-linejoin="round"/>
</g>
<rect x="761.1" y="4.1" width="517.9" height="568.3" fill="none" stroke="#000" stroke-width="1.9"/>
<line x1="750.1" y1="546.4" x2="761.1" y2="546.4" stroke="#000" stroke-width="1.8"/>
<text transform="translate(740.6,558.2) scale(0.9,1)" text-anchor="end" class="tk">0.0</text>
<line x1="750.1" y1="443.0" x2="761.1" y2="443.0" stroke="#000" stroke-width="1.8"/>
<text transform="translate(740.6,454.8) scale(0.9,1)" text-anchor="end" class="tk">0.2</text>
<line x1="750.1" y1="339.6" x2="761.1" y2="339.6" stroke="#000" stroke-width="1.8"/>
<text transform="translate(740.6,351.4) scale(0.9,1)" text-anchor="end" class="tk">0.4</text>
<line x1="750.1" y1="236.2" x2="761.1" y2="236.2" stroke="#000" stroke-width="1.8"/>
<text transform="translate(740.6,248.0) scale(0.9,1)" text-anchor="end" class="tk">0.6</text>
<line x1="750.1" y1="132.8" x2="761.1" y2="132.8" stroke="#000" stroke-width="1.8"/>
<text transform="translate(740.6,144.6) scale(0.9,1)" text-anchor="end" class="tk">0.8</text>
<line x1="750.1" y1="29.4" x2="761.1" y2="29.4" stroke="#000" stroke-width="1.8"/>
<text transform="translate(740.6,41.2) scale(0.9,1)" text-anchor="end" class="tk">1.0</text>
<line x1="784.3" y1="572.4" x2="784.3" y2="583.4" stroke="#000" stroke-width="1.8"/>
<text transform="translate(784.0,614.4) scale(0.9,1)" text-anchor="middle" class="tk">0</text>
<line x1="900.3" y1="572.4" x2="900.3" y2="583.4" stroke="#000" stroke-width="1.8"/>
<text transform="translate(898.7,614.4) scale(0.9,1)" text-anchor="middle" class="tk">0.05</text>
<line x1="1016.2" y1="572.4" x2="1016.2" y2="583.4" stroke="#000" stroke-width="1.8"/>
<text transform="translate(1013.2,614.4) scale(0.9,1)" text-anchor="middle" class="tk">0.1</text>
<line x1="1133.8" y1="572.4" x2="1133.8" y2="583.4" stroke="#000" stroke-width="1.8"/>
<text transform="translate(1130.3,614.4) scale(0.9,1)" text-anchor="middle" class="tk">0.15</text>
<line x1="1249.7" y1="572.4" x2="1249.7" y2="583.4" stroke="#000" stroke-width="1.8"/>
<text transform="translate(1248.3,614.4) scale(0.9,1)" text-anchor="middle" class="tk">0.2</text>
<text x="1018.9" y="675.5" text-anchor="middle" class="lab">Time [s]</text>
<text transform="translate(44.7,289) rotate(-90)" text-anchor="middle" class="lab">Normalized amplitude</text>
<rect x="150.7" y="23.3" width="355.6" height="117.5" rx="8" ry="8" fill="#fff" fill-opacity="0.8" stroke="#d5d5d5" stroke-width="1.9"/>
<line x1="163.8" y1="49.7" x2="243.7" y2="49.7" stroke="#a9d4ec" stroke-width="3.2"/>
<line x1="163.8" y1="104.6" x2="243.7" y2="104.6" stroke="#f0a78c" stroke-width="3.2"/>
<text x="273.2" y="63.3" class="leg">input</text>
<text x="273.2" y="115.8" class="leg">reconstruction</text>
</svg>
</body></html>
